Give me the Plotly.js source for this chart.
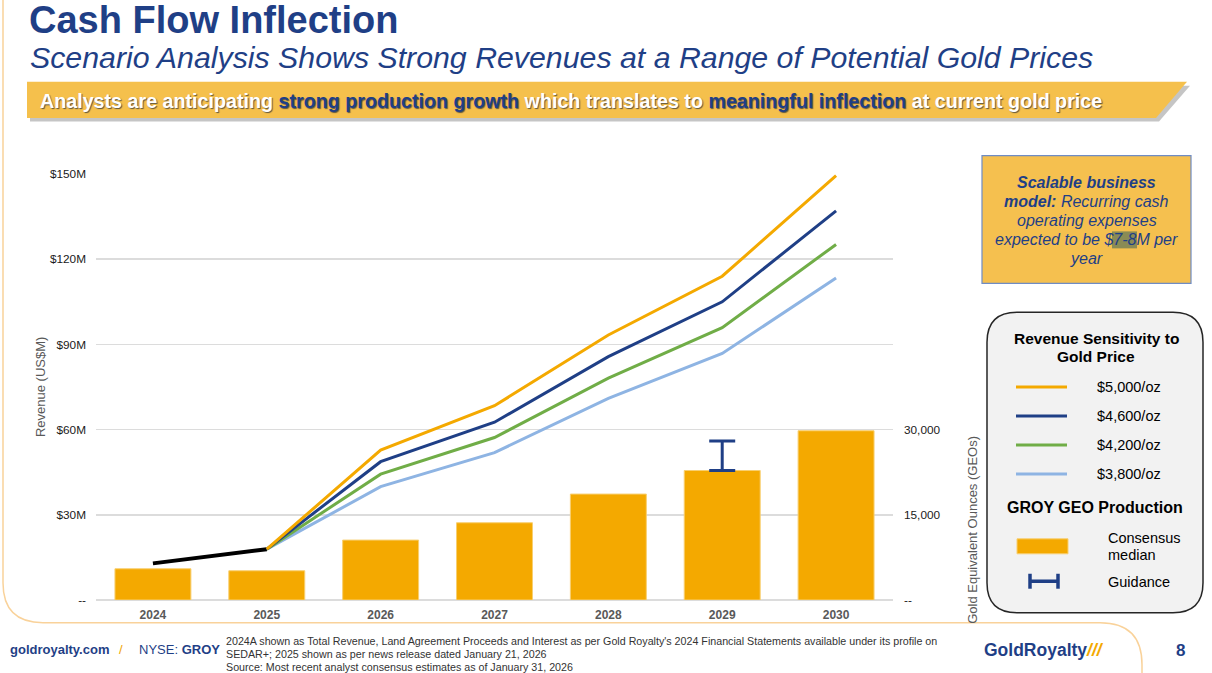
<!DOCTYPE html>
<html>
<head>
<meta charset="utf-8">
<script src="https://cdn.plot.ly/plotly-3.0.1.min.js"></script>
<style>
  html, body { margin:0; padding:0; background:#ffffff; }
  #chart { width:1212px; height:673px; }
</style>
</head>
<body>
<div id="chart"></div>
<script>
// ---------------- DATA ----------------
const years = ['2024', '2025', '2026', '2027', '2028', '2029', '2030'];
const geoConsensusMedian = [5500, 5150, 10550, 13600, 18650, 22800, 29800];

const actualYears = ['2024', '2025'];
const actualRevenue = [12.9, 17.9];

const scenarioYears = ['2025', '2026', '2027', '2028', '2029', '2030'];
const revenueAt5000 = [17.9, 52.8, 68.4, 93.3, 114.0, 149.4];
const revenueAt4600 = [17.9, 48.7, 62.6, 85.7, 105.0, 137.0];
const revenueAt4200 = [17.9, 44.3, 57.2, 78.1, 95.9, 125.2];
const revenueAt3800 = [17.9, 39.9, 51.9, 71.0, 86.8, 113.4];

const guidanceYear = ['2029'];
const guidanceLow = [22800];
const guidanceHigh = [28000];

const scenarioNames = ['$5,000/oz', '$4,600/oz', '$4,200/oz', '$3,800/oz'];

const revenueTickVals = [0, 30, 60, 90, 120, 150];
const revenueTickText = ['--', '$30M', '$60M', '$90M', '$120M', '$150M'];
const geoTickVals = [0, 15000, 30000];
const geoTickText = ['--', '15,000', '30,000'];

// ---------------- STYLE ----------------
const NAVY = '#1f3f86';
const GOLD = '#f4a900';
const lineColors = ['#f4a900', '#1f3f86', '#70ad47', '#8eb4e3'];
const FONT = 'Liberation Sans, Arial, sans-serif';

// plot area in pixels
const L = 96, R = 893, T = 173.5, B = 600.3;
const W = 1212, H = 673;
const px = x => (x - L) / (R - L);
const py = y => (B - y) / (B - T);

const scenarioSeries = [revenueAt5000, revenueAt4600, revenueAt4200, revenueAt3800];

const traces = [];
traces.push({
  type: 'bar', x: years, y: geoConsensusMedian, yaxis: 'y', name: 'Consensus median',
  marker: { color: GOLD, line: { color: '#f8cf70', width: 1 } },
  showlegend: false, hoverinfo: 'skip'
});
traces.push({
  type: 'scatter', mode: 'markers', x: guidanceYear, y: guidanceLow, yaxis: 'y', name: 'Guidance',
  marker: { size: 1, color: 'rgba(0,0,0,0)' },
  error_y: { type: 'data', symmetric: false,
             array: guidanceHigh.map((h, i) => h - guidanceLow[i]), arrayminus: [0],
             color: NAVY, thickness: 3, width: 13 },
  showlegend: false, hoverinfo: 'skip'
});
traces.push({
  type: 'scatter', mode: 'lines', x: actualYears, y: actualRevenue, yaxis: 'y2', name: 'Actual',
  line: { color: '#000000', width: 4 }, showlegend: false, hoverinfo: 'skip'
});
for (let i = scenarioSeries.length - 1; i >= 0; i--) {
  traces.push({
    type: 'scatter', mode: 'lines', x: scenarioYears, y: scenarioSeries[i], yaxis: 'y2',
    name: scenarioNames[i], line: { color: lineColors[i], width: 3 },
    showlegend: false, hoverinfo: 'skip'
  });
}

const shapes = [];
const annotations = [];
const P = (x, y) => px(x).toFixed(5) + ',' + py(y).toFixed(5);

// outer light-orange frame
shapes.push({
  type: 'path', xref: 'paper', yref: 'paper', layer: 'below',
  path: 'M ' + P(3, -2) + ' L ' + P(3, 583) + ' Q ' + P(3, 623) + ' ' + P(43, 623) +
        ' L ' + P(1100, 623) + ' Q ' + P(1142, 623) + ' ' + P(1142, 665) + ' L ' + P(1142, 676),
  line: { color: '#f9d29a', width: 1.5 }
});

// banner shadow + banner
shapes.push({
  type: 'path', xref: 'paper', yref: 'paper', layer: 'below',
  path: 'M ' + P(30, 85) + ' L ' + P(1190, 85) + ' L ' + P(1159, 121) + ' L ' + P(30, 121) + ' Z',
  fillcolor: 'rgba(90,90,90,0.35)', line: { width: 0 }
});
shapes.push({
  type: 'path', xref: 'paper', yref: 'paper', layer: 'below',
  path: 'M ' + P(27, 81) + ' L ' + P(1187, 81) + ' L ' + P(1156, 117.5) + ' L ' + P(27, 117.5) + ' Z',
  fillcolor: '#f5c04c', line: { width: 0 }
});

// scalable business model box
shapes.push({
  type: 'rect', xref: 'paper', yref: 'paper', layer: 'below',
  x0: px(982), x1: px(1191), y0: py(155), y1: py(283),
  fillcolor: '#f5c04f', line: { color: '#6f8cc4', width: 1.2 }
});
// highlight behind "7-8"
shapes.push({
  type: 'rect', xref: 'paper', yref: 'paper', layer: 'below',
  x0: px(1112), x1: px(1137), y0: py(231), y1: py(248),
  fillcolor: '#8a8b55', line: { width: 0 }
});

// legend rounded box
(function () {
  const x0 = 987, x1 = 1203, y0 = 312, y1 = 613, r = 30;
  shapes.push({
    type: 'path', xref: 'paper', yref: 'paper', layer: 'below',
    path: 'M ' + P(x0 + r, y0) + ' L ' + P(x1 - r, y0) + ' Q ' + P(x1, y0) + ' ' + P(x1, y0 + r) +
          ' L ' + P(x1, y1 - r) + ' Q ' + P(x1, y1) + ' ' + P(x1 - r, y1) +
          ' L ' + P(x0 + r, y1) + ' Q ' + P(x0, y1) + ' ' + P(x0, y1 - r) +
          ' L ' + P(x0, y0 + r) + ' Q ' + P(x0, y0) + ' ' + P(x0 + r, y0) + ' Z',
    fillcolor: '#f2f2f2', line: { color: '#262626', width: 1.5 }
  });
})();

const legendYs = [387, 416, 445, 474];
legendYs.forEach((yy, i) => {
  shapes.push({ type: 'line', xref: 'paper', yref: 'paper',
    x0: px(1016), x1: px(1067), y0: py(yy), y1: py(yy),
    line: { color: lineColors[i], width: 3 } });
  annotations.push({ xref: 'paper', yref: 'paper', x: px(1095), y: py(yy), xanchor: 'left', yanchor: 'middle',
    text: scenarioNames[i], showarrow: false, font: { family: FONT, size: 14.5, color: '#000' } });
});
shapes.push({ type: 'rect', xref: 'paper', yref: 'paper',
  x0: px(1017), x1: px(1068), y0: py(554), y1: py(539),
  fillcolor: GOLD, line: { color: '#f8cf70', width: 1 } });
shapes.push({ type: 'line', xref: 'paper', yref: 'paper', x0: px(1030), x1: px(1030), y0: py(574), y1: py(589), line: { color: NAVY, width: 3.5 } });
shapes.push({ type: 'line', xref: 'paper', yref: 'paper', x0: px(1058), x1: px(1058), y0: py(574), y1: py(589), line: { color: NAVY, width: 3.5 } });
shapes.push({ type: 'line', xref: 'paper', yref: 'paper', x0: px(1030), x1: px(1058), y0: py(581.5), y1: py(581.5), line: { color: NAVY, width: 3.5 } });

function ann(x, y, text, font, extra) {
  annotations.push(Object.assign({ xref: 'paper', yref: 'paper', x: px(x), y: py(y), text: text,
    showarrow: false, xanchor: 'left', yanchor: 'middle', font: Object.assign({ family: FONT }, font) }, extra || {}));
}

// subtitle
ann(28, 57, '<i>Scenario Analysis Shows Strong Revenues at a Range of Potential Gold Prices</i>',
    { size: 30.3, color: NAVY });
// banner text
ann(571, 100.5,
  '<b>Analysts are anticipating <span style="color:#1f3f86">strong production growth</span> which translates to <span style="color:#1f3f86">meaningful inflection</span> at current gold price</b>',
  { size: 19.7, color: '#ffffff', shadow: '1px 1px 1px rgba(60,60,60,0.8)' }, { xanchor: 'center' });

// scalable box text, one line each
const boxLines = [
  '<b><i>Scalable business</i></b>',
  '<b><i>model:</i></b><i> Recurring cash</i>',
  '<i>operating expenses</i>',
  '<i>expected to be $7-8M per</i>',
  '<i>year</i>'
];
boxLines.forEach((t, i) => ann(1086.5, 182 + 19 * i, t, { size: 16, color: NAVY }, { xanchor: 'center' }));

// legend titles
ann(1096, 338, '<b>Revenue Sensitivity to</b>', { size: 15.5, color: '#000' }, { xanchor: 'center' });
ann(1096, 356, '<b>Gold Price</b>', { size: 15.5, color: '#000' }, { xanchor: 'center' });
ann(1095, 508, '<b>GROY GEO Production</b>', { size: 16, color: '#000' }, { xanchor: 'center' });
ann(1106, 538, 'Consensus', { size: 14.5, color: '#000' });
ann(1106, 555, 'median', { size: 14.5, color: '#000' });
ann(1106, 582, 'Guidance', { size: 14.5, color: '#000' });

// axis titles
ann(40, 387, 'Revenue (US$M)', { size: 13, color: '#595959' }, { xanchor: 'center', textangle: -90 });
ann(973, 530, 'Gold Equivalent Ounces (GEOs)', { size: 13, color: '#595959' }, { xanchor: 'center', textangle: -90 });

// footer
ann(8, 650, '<b>goldroyalty.com</b>', { size: 13, color: NAVY });
ann(117, 650, '/', { size: 13, color: '#f0a500' });
ann(137, 650, 'NYSE: <b>GROY</b>', { size: 13, color: NAVY });
ann(224, 641, "2024A shown as Total Revenue, Land Agreement Proceeds and Interest as per Gold Royalty's 2024 Financial Statements available under its profile on",
    { size: 10.7, color: '#333333' });
ann(224, 654, 'SEDAR+; 2025 shown as per news release dated January 21, 2026', { size: 10.7, color: '#333333' });
ann(224, 667, 'Source: Most recent analyst consensus estimates as of January 31, 2026', { size: 10.7, color: '#333333' });
ann(982, 650, '<b>GoldRoyalty</b><span style="color:#f4a900"><b><i>///</i></b></span>', { size: 17.5, color: NAVY });
ann(1180, 651, '<b>8</b>', { size: 17, color: NAVY }, { xanchor: 'center' });

const layout = {
  width: W, height: H,
  paper_bgcolor: '#ffffff', plot_bgcolor: 'rgba(0,0,0,0)',
  font: { family: FONT, color: '#000' },
  margin: { l: L, r: W - R, t: T, b: H - B, pad: 0, autoexpand: false },
  showlegend: false,
  title: { text: '<b>Cash Flow Inflection</b>', xref: 'container', yref: 'container',
           x: 29 / W, xanchor: 'left', y: 1 - 20 / H, yanchor: 'middle',
           font: { family: FONT, size: 38, color: NAVY } },
  bargap: 0.333,
  xaxis: { type: 'category', categoryorder: 'array', categoryarray: years,
           showgrid: false, zeroline: false, showline: false, ticks: '',
           tickfont: { family: FONT, size: 12, color: '#595959', weight: 'bold' },
           ticklabelstandoff: 6, fixedrange: true },
  yaxis: { side: 'right', range: [0, 75000], tickmode: 'array', tickvals: geoTickVals, ticktext: geoTickText,
           showgrid: false, zeroline: false, showline: false, ticks: '',
           tickfont: { family: FONT, size: 11.8, color: '#1a1a1a' }, ticklabelstandoff: 10, fixedrange: true },
  yaxis2: { overlaying: 'y', side: 'left', range: [0, 150], tickmode: 'array',
            tickvals: revenueTickVals, ticktext: revenueTickText,
            showgrid: true, gridcolor: '#dcdcdc', gridwidth: 1.5,
            zeroline: true, zerolinecolor: '#dcdcdc', zerolinewidth: 1.5,
            showline: false, ticks: '',
            tickfont: { family: FONT, size: 11.8, color: '#1a1a1a' }, ticklabelstandoff: 9, fixedrange: true },
  shapes: shapes,
  annotations: annotations
};

Plotly.newPlot('chart', traces, layout, { displayModeBar: false, staticPlot: true });
</script>
</body>
</html>
